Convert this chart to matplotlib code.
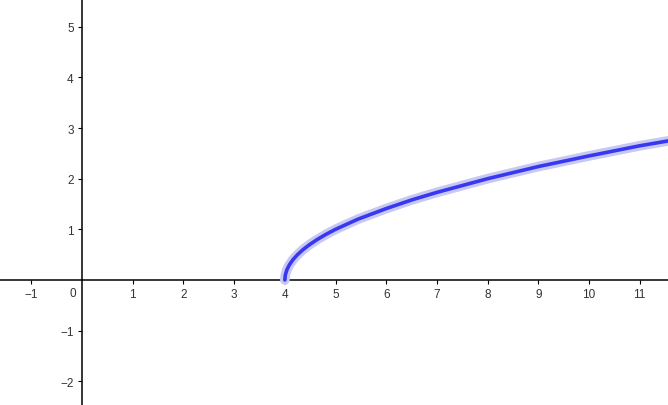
import matplotlib.pyplot as plt

# points
curve_x = [4.0, 4.01, 4.04, 4.09, 4.16, 4.25, 4.36, 4.49, 4.64, 4.81, 5.0,
           5.44, 6.0, 6.5, 7.0, 8.0, 9.0, 10.0, 11.0, 11.7]
curve_y = [0.0, 0.1, 0.2, 0.3, 0.4, 0.5, 0.6, 0.7, 0.8, 0.9, 1.0,
           1.2, 1.41, 1.58, 1.73, 2.0, 2.24, 2.45, 2.65, 2.77]

x_ticks = [-1, 1, 2, 3, 4, 5, 6, 7, 8, 9, 10, 11]
y_ticks = [-2, -1, 1, 2, 3, 4, 5]

plt.rcParams['font.family'] = ['Liberation Sans', 'DejaVu Sans']

fig = plt.figure(figsize=(6.68, 4.06), dpi=100)
ax = fig.add_axes([0, 0, 1, 1])
ax.set_xlim(-1.62, 11.56)
ax.set_ylim(-2.47, 5.55)

# halo + core line
ax.plot(curve_x, curve_y, color='#c8c8f4', lw=7, solid_capstyle='round', zorder=3)
ax.plot(curve_x, curve_y, color='#3838f0', lw=2.6, solid_capstyle='round', zorder=4)

for side in ['top', 'right']:
    ax.spines[side].set_visible(False)
ax.spines['left'].set_position(('data', 0))
ax.spines['bottom'].set_position(('data', 0))
ax.spines['left'].set_linewidth(1.1)
ax.spines['bottom'].set_linewidth(1.1)

ax.set_xticks(x_ticks)
ax.set_yticks(y_ticks)
ax.tick_params(axis='both', direction='out', length=3, width=0.8,
               labelsize=8.5, labelcolor='#333333', pad=3)
ax.set_xticklabels(['\u22121' if t < 0 else str(t) for t in x_ticks])
ax.set_yticklabels(['\u2212' + str(-t) if t < 0 else str(t) for t in y_ticks])

ax.text(-0.12, -0.13, '0', ha='right', va='top', fontsize=8.5, color='#333333')

fig.savefig('out.png', dpi=100)
